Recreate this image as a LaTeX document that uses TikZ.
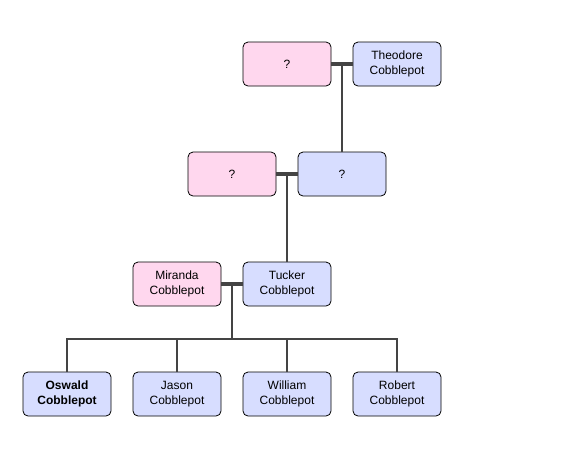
\documentclass[tikz,border=0pt]{standalone}
\usepackage{fontspec}
\setmainfont{Liberation Sans}
\newlength{\du}
\setlength{\du}{1pt}
\definecolor{femalecolor}{rgb}{1.000000, 0.843137, 0.933333}
\definecolor{malecolor}{rgb}{0.843137, 0.866667, 1.000000}
\definecolor{linkcolor}{rgb}{0.266667, 0.266667, 0.266667}
\tikzset{
  person/.style={draw=black, line width=0.8\du, rounded corners=5\du,
    minimum width=88\du, minimum height=44\du, inner sep=0pt,
    align=center, font=\fontsize{12}{15.5}\selectfont},
  female/.style={person, fill=femalecolor},
  male/.style={person, fill=malecolor},
  marriage/.style={draw=linkcolor, line width=4\du},
  descent/.style={draw=linkcolor, line width=1.6\du}
}

\begin{document}
\begin{tikzpicture}[x=1\du, y=-1\du]
\useasboundingbox (0,0) rectangle (569,456);
% first generation
\node[female] (gmother) at (287,64) {?};
\node[male] (theodore) at (397,64) {Theodore\\Cobblepot};
% second generation
\node[female] (mother) at (232,174) {?};
\node[male] (father) at (342,174) {?};
% third generation
\node[female] (miranda) at (177,284) {Miranda\\Cobblepot};
\node[male] (tucker) at (287,284) {Tucker\\Cobblepot};
% children
\node[male, font=\fontsize{12}{15.5}\selectfont\bfseries] (oswald) at (67,394) {Oswald\\Cobblepot};
\node[male] (jason) at (177,394) {Jason\\Cobblepot};
\node[male] (william) at (287,394) {William\\Cobblepot};
\node[male] (robert) at (397,394) {Robert\\Cobblepot};
% marriages
\draw[marriage] (gmother.east) -- coordinate (m1) (theodore.west);
\draw[marriage] (mother.east) -- coordinate (m2) (father.west);
\draw[marriage] (miranda.east) -- coordinate (m3) (tucker.west);
% descent
\draw[descent] (m1) -- (father.north);
\draw[descent] (m2) -- (tucker.north);
\coordinate (fork) at (232,339);
\draw[descent] (m3) -- (fork);
\draw[descent] (oswald.north) |- (fork) -| (robert.north);
\draw[descent] (jason.north) -- (jason.north |- fork);
\draw[descent] (william.north) -- (william.north |- fork);
\end{tikzpicture}
\end{document}
